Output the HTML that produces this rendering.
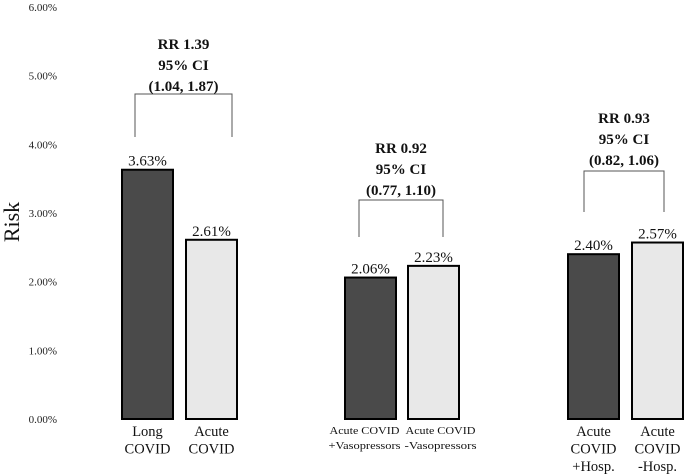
<!DOCTYPE html>
<html><head><meta charset="utf-8"><style>
html,body{margin:0;padding:0;background:#fff;}
svg{display:block;font-family:"Liberation Serif",serif;}
</style></head><body>
<svg id="chart" width="685" height="475"></svg>
<script>
const ticks=[0,1,2,3,4,5,6];
const values=[3.63,2.61,2.06,2.23,2.40,2.57];
const labels=[["Long","COVID"],["Acute","COVID"],["Acute COVID","+Vasopressors"],["Acute COVID","-Vasopressors"],["Acute","COVID","+Hosp."],["Acute","COVID","-Hosp."]];
const rrLabels=[["RR 1.39","95% CI","(1.04, 1.87)"],["RR 0.92","95% CI","(0.77, 1.10)"],["RR 0.93","95% CI","(0.82, 1.06)"]];
const ns="http://www.w3.org/2000/svg";
const svg=document.getElementById('chart');
const y=v=>419-v*68.67;
const barX=[122,186,345,408,568,632];
const labelShift=[0,0,-6,7,0,0];
const bw=51;
function mk(tag,attrs,text){const e=document.createElementNS(ns,tag);for(const k in attrs)e.setAttribute(k,attrs[k]);if(text!==undefined)e.textContent=text;svg.appendChild(e);return e;}
ticks.forEach(t=>{const e=mk('text',{x:57,y:y(t)+4,'text-anchor':'end','font-size':11,fill:'#222'},t.toFixed(2)+'%');

});
const ya=mk('text',{x:0,y:0,transform:'translate(19,222) rotate(-90)','text-anchor':'middle','font-size':22,fill:'#111'},'Risk');


values.forEach((v,i)=>{
const dark=i%2===0;
const r=mk('rect',{x:barX[i],y:y(v),width:bw,height:y(0)-y(v),fill:dark?'#4a4a4a':'#e8e8e8',stroke:'#000','stroke-width':2});


const t=mk('text',{x:barX[i]+bw/2,y:y(v)-4,'text-anchor':'middle','font-size':15,fill:'#111'},v.toFixed(2)+'%');


const small=labels[i][0].length>6;
const fs=small?11:14.5, lh=small?15:17.5;
labels[i].forEach((ln,j)=>{const attrs={x:barX[i]+bw/2+labelShift[i],y:(small?434:436)+j*lh,'text-anchor':'middle','font-size':fs,fill:'#111'};
if(small){attrs.textLength=ln.length>11?72:70;attrs.lengthAdjust='spacingAndGlyphs';}
const l=mk('text',attrs,ln);

});
});
const brX=[[135,232],[359,443],[584,664]];
const brTop=[94,200,171];
const brBot=[137,237,212];
const txtTop=[49,153,123];
rrLabels.forEach((g,i)=>{
const p=mk('path',{d:`M${brX[i][0]} ${brBot[i]}V${brTop[i]}H${brX[i][1]}V${brBot[i]}`,fill:'none',stroke:'#555','stroke-width':1});


const cx=(brX[i][0]+brX[i][1])/2;
g.forEach((ln,j)=>{const t=mk('text',{x:cx,y:txtTop[i]+j*21,'text-anchor':'middle','font-size':15,'font-weight':'bold',fill:'#111'},ln);

});
});
</script>
</body></html>
